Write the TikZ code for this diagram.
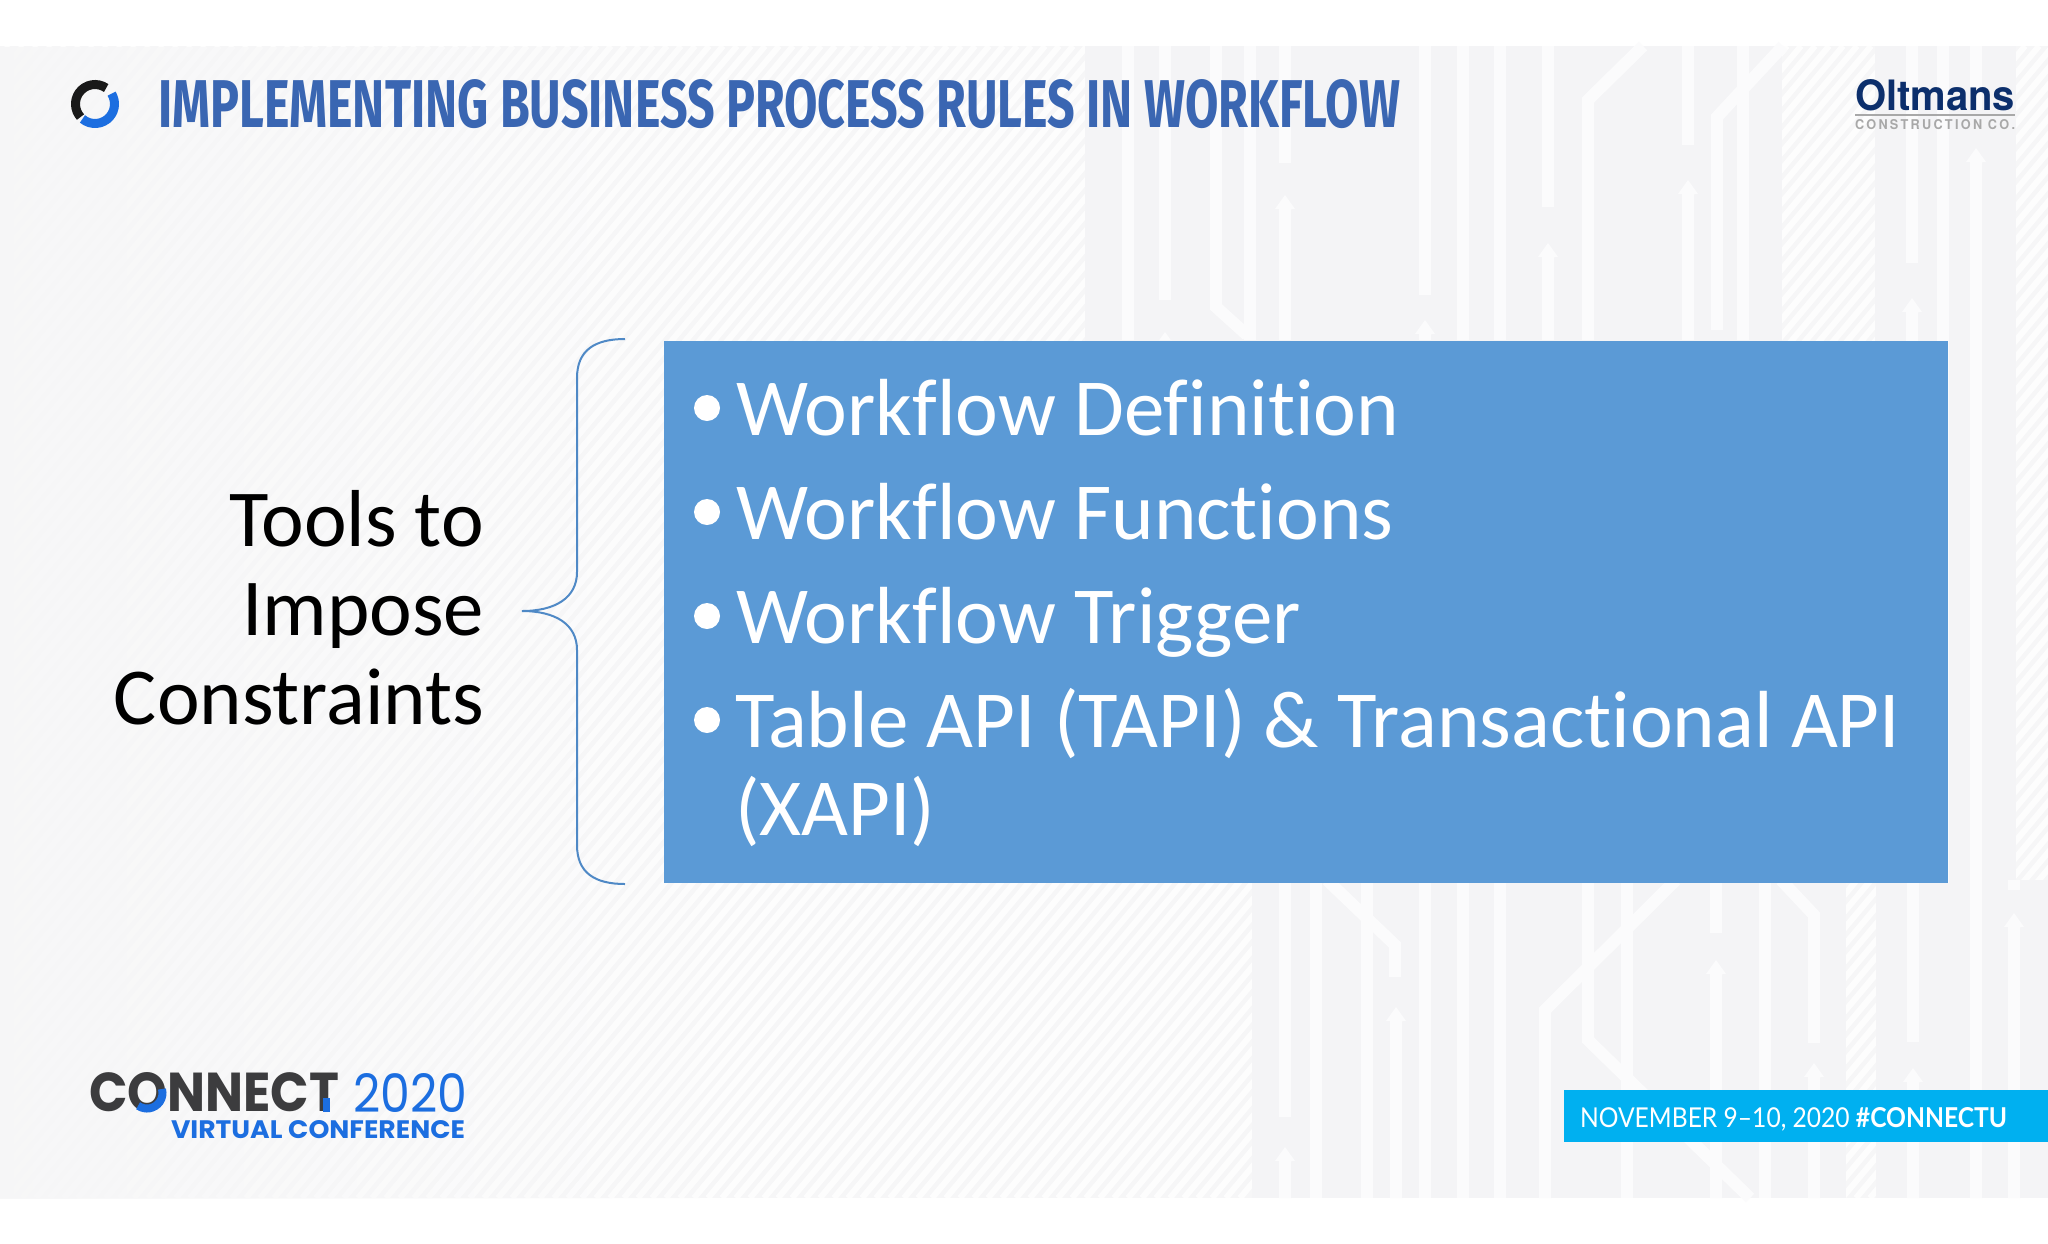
\documentclass[tikz,border=0pt]{standalone}
\usepackage{fontspec}
\usetikzlibrary{fadings}
\setmainfont{Carlito}[Ligatures=NoCommon]
\newfontfamily\titlefont{Fira Sans}
\newfontfamily\logofont{TeX Gyre Heros}
\newfontfamily\confont{Poppins}
\newfontfamily\ribfont{Lato}
\definecolor{bgc}{HTML}{F6F6F7}
\definecolor{panelc}{HTML}{F4F4F6}
\definecolor{linec}{HTML}{FBFBFC}
\definecolor{boxc}{HTML}{5B9AD6}
\definecolor{bracec}{HTML}{4F89C6}
\definecolor{titlec}{HTML}{3A66B2}
\definecolor{navyc}{HTML}{0C2F6C}
\definecolor{greyc}{HTML}{A8A8A8}
\definecolor{darkc}{HTML}{3C3C3E}
\definecolor{bluec}{HTML}{1C6EE0}
\definecolor{ribc}{HTML}{00B0F0}
\tikzset{
  x=0.5pt,y=-0.5pt,
  txt/.style={inner sep=0pt,outer sep=0pt},
  main/.style={txt,anchor=base west,text=white,font=\fontsize{40.5}{48}\selectfont},
  left/.style={txt,anchor=base east,text=black,font=\fontsize{40.4}{48}\selectfont},
  chan/.style={draw=linec,line width=6pt,line cap=butt,line join=miter},
  bulletdot/.style={fill=white,draw=none},
}
\newcommand{\uparrowline}[3]{%
  \fill[linec] (#1,#2) -- (#1+10,#2+14) -- (#1+6,#2+14) -- (#1+6,#3) -- (#1-6,#3) -- (#1-6,#2+14) -- (#1-10,#2+14) -- cycle;}
\begin{document}
\begin{tikzpicture}
\useasboundingbox (0,0) rectangle (2048,1243);
\fill[white] (0,0) rectangle (2048,1243);
\fill[bgc] (0,46) rectangle (2048,1198);
% hatching
\begin{scope}
\clip (0,46) rectangle (2048,1198);
\foreach \xx in {-1000,-986,...,2100}{
  \draw[white,line width=3pt,opacity=0.85] (\xx,1198) -- (\xx+967,46);
}
\end{scope}
% fade the hatching out towards the left
\fill[bgc,path fading=east] (-100,46) rectangle (700,1198);
% upper panels
\fill[panelc] (1085,46) rectangle (1782,345);
\fill[panelc] (1875,46) rectangle (2016,883);
% lower panels
\fill[panelc] (1252,880) rectangle (1846,1198);
\fill[panelc] (1876,880) rectangle (2048,1198);
% upper channels
\foreach \xa/\ya/\yb in {1128/46/340,1165/46/300,1250/46/340,1285/46/163,1425/46/295,1463/46/340,1500/46/340,1548/46/207,1688/46/145,1743/46/340,1912/46/263,1943/46/883,1976/46/110}{
  \draw[chan] (\xa,\ya) -- (\xa,\yb);
}
\draw[chan] (1216,46) -- (1216,307) -- (1247,335);
\draw[chan] (1588,340) -- (1588,100) -- (1643,46);
\draw[chan] (1717,330) -- (1717,117) -- (1783,46);
\uparrowline{1165}{332}{340}
\uparrowline{1285}{195}{340}
\uparrowline{1425}{320}{340}
\uparrowline{1548}{243}{340}
\uparrowline{1688}{180}{340}
\uparrowline{1912}{298}{883}
\uparrowline{1976}{148}{1198}
% lower channels
\foreach \xa/\ya/\yb in {1285/880/1117,1316/880/1198,1367/880/1198,1425/880/1198,1463/880/1198,1500/880/1198,1627/880/1198,1716/880/933,1765/880/1198,1913/880/1042,2014/880/890}{
  \draw[chan] (\xa,\ya) -- (\xa,\yb);
}
\draw[chan] (1327,880) -- (1395,945) -- (1395,977);
\draw[chan] (1588,880) -- (1588,1040) -- (1750,1198);
\draw[chan] (1676,880) -- (1545,1010) -- (1545,1198);
\draw[chan] (1781,880) -- (1814,915) -- (1814,1043);
\uparrowline{1285}{1147}{1198}
\uparrowline{1396}{1007}{1198}
\uparrowline{1716}{960}{1198}
\uparrowline{1814}{1063}{1198}
\uparrowline{1913}{1068}{1198}
\uparrowline{2014}{913}{1198}
% ring icon (y axis points down, so angles run clockwise)
\draw[black!90,line width=4.5pt] (95,104) ++(305:19.5) arc[start angle=305,end angle=138,radius=19.5];
\draw[bluec,line width=4.5pt] (95,104) ++(130:19.5) arc[start angle=130,end angle=-32,radius=19.5];
% title
\node[txt,anchor=south west,text=titlec] (title) at (158,129) {\resizebox{621pt}{24pt}{\titlefont\bfseries IMPLEMENTING BUSINESS PROCESS RULES IN WORKFLOW}};
% Oltmans logo
\node[txt,anchor=south west,text=navyc] (oltmans) at (1855,111) {\resizebox{80pt}{15.5pt}{\logofont\bfseries Oltmans}};
\coordinate (rulea) at (1855,115);
\coordinate (ruleb) at (2015,115);
\draw[greyc,line width=0.6pt] (rulea) -- (ruleb);
\node[txt,anchor=south west,text=greyc] (constr) at (1855,130) {\resizebox{80pt}{5pt}{\logofont\bfseries\addfontfeatures{LetterSpace=18}CONSTRUCTION CO.}};
% box
\node[fill=boxc,draw=none,inner sep=0pt,outer sep=0pt,minimum width=642pt,minimum height=271pt,anchor=north west] (box) at (664,341) {};
% brace
\coordinate (bracetop) at (625,339);
\coordinate (bracetip) at (522,611);
\coordinate (bracebot) at (625,884);
\draw[bracec,line width=1pt] (bracetop) .. controls (595,339) and (577,350) .. (577,378) -- (577,572) .. controls (577,598) and (555,611) .. (bracetip) .. controls (555,611) and (577,624) .. (577,650) -- (577,845) .. controls (577,873) and (595,884) .. (bracebot);
% left text
\node[left] (t1) at (484,546) {Tools to};
\node[left] (t2) at (484,635) {Impose};
\node[left] (t3) at (484,724) {Constraints};
% bullets
\foreach \n/\yy in {a/408,b/512,c/616,d/720}{
  \fill[bulletdot] (707,\yy) circle[radius=13];
}
\node[main] (w1) at (736,435) {Workflow Definition};
\node[main] (w2) at (736,539) {Workflow Functions};
\node[main] (w3) at (736,643) {Workflow Trigger};
\node[main] (w4) at (735,747) {Table API (TAPI) \& Transactional API};
\node[main] (w5) at (735,835) {(XAPI)};
% connect logo
\node[txt,anchor=south west,text=darkc] (connect) at (89,1112) {\resizebox{125pt}{19.5pt}{\confont\bfseries CONNECT}};
\fill[bluec] (323,1098) rectangle (330,1112);
\draw[bluec,line width=4pt] (147,1093) ++(125:15.5) arc[start angle=125,end angle=-15,radius=15.5];
\node[txt,anchor=south west,text=bluec] (yr) at (353,1112) {\resizebox{57pt}{19.5pt}{\confont 2020}};
\node[txt,anchor=south west,text=bluec] (virt) at (171,1139) {\resizebox{147pt}{9pt}{\confont\bfseries VIRTUAL CONFERENCE}};
% ribbon
\node[fill=ribc,inner sep=0pt,outer sep=0pt,minimum width=242pt,minimum height=26pt,anchor=north west] (rib) at (1564,1090) {};
\node[txt,anchor=base west,text=white] (ribt) at (1580,1127) {\resizebox{213.5pt}{10pt}{\ribfont NOVEMBER 9–10, 2020 {\bfseries\#CONNECTU}}};
\end{tikzpicture}
\end{document}
